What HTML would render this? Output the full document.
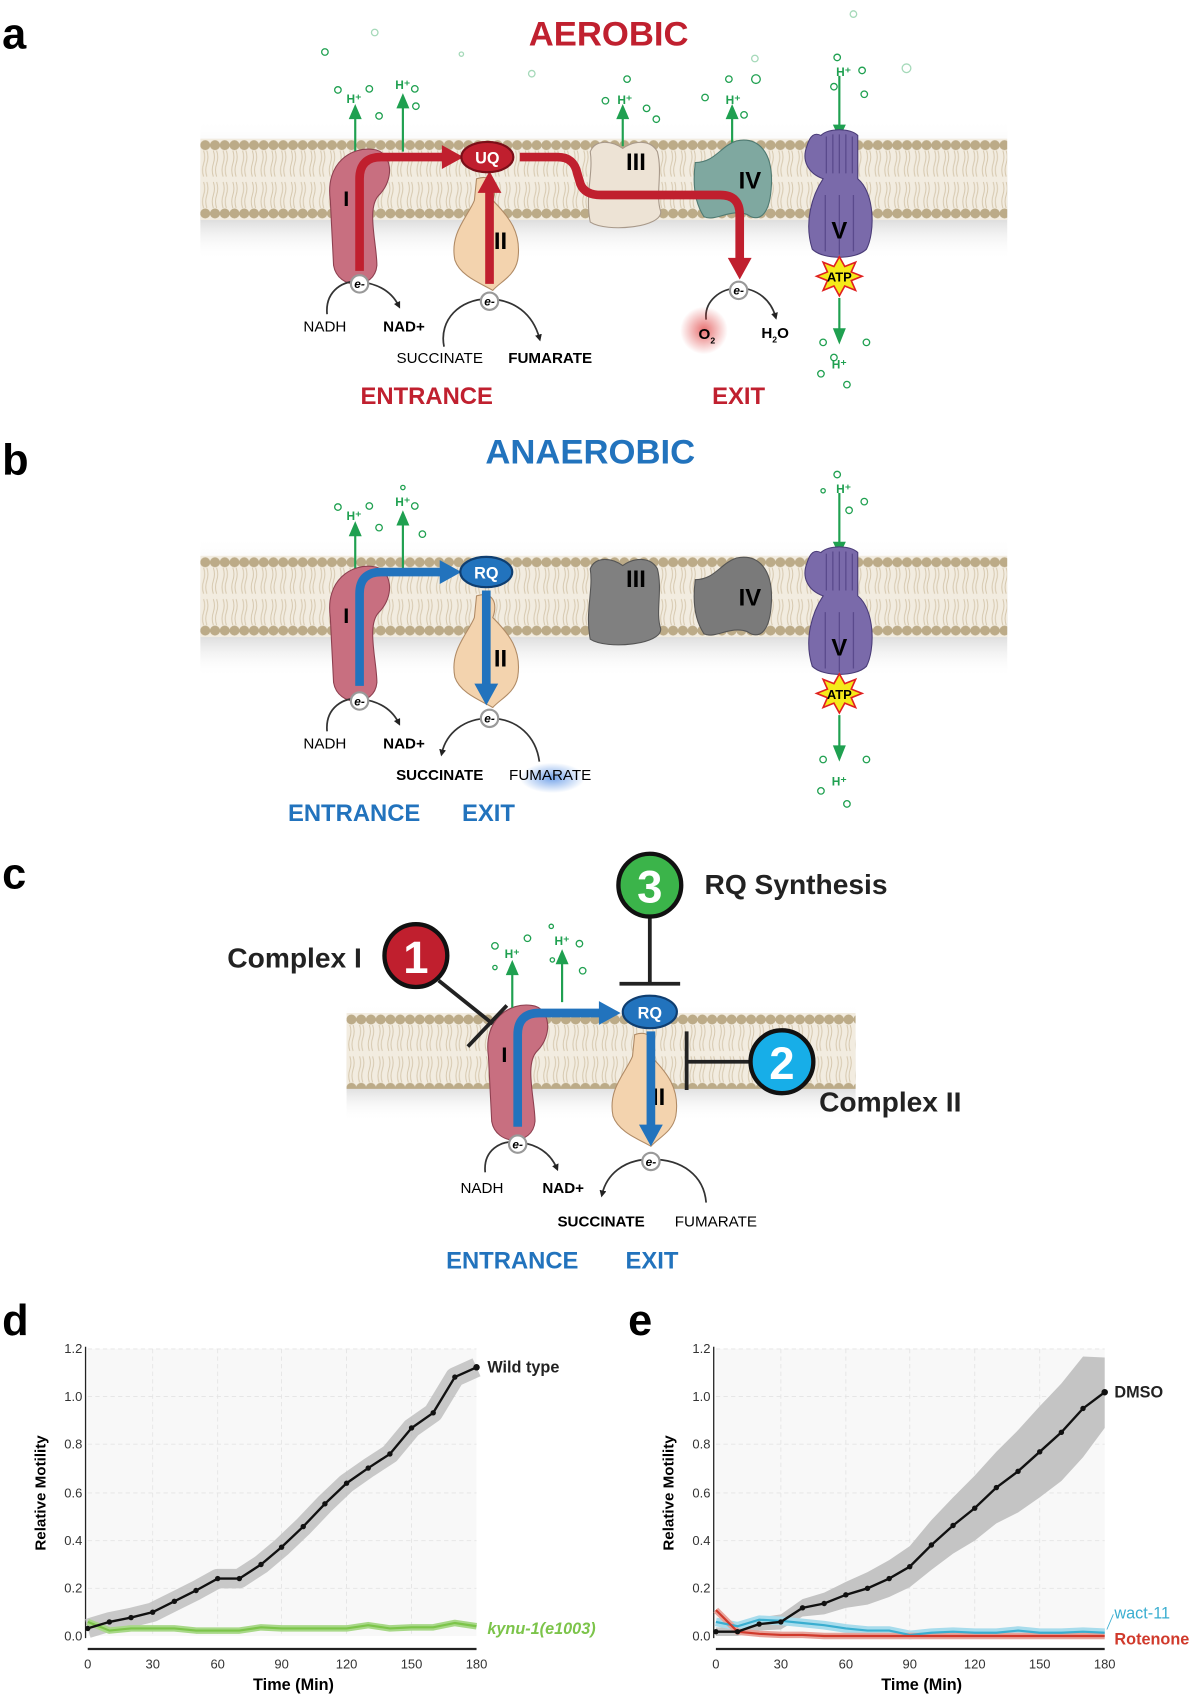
<!DOCTYPE html>
<html><head><meta charset="utf-8"><style>html,body{margin:0;padding:0;background:#fff}svg{display:block}text{font-family:"Liberation Sans",Arial,sans-serif}</style></head>
<body>
<svg width="1200" height="1701" viewBox="0 0 1108 1570" preserveAspectRatio="none" xmlns="http://www.w3.org/2000/svg">
<defs>
<pattern id="lip" x="0" y="0" width="9" height="75" patternUnits="userSpaceOnUse">
<rect width="9" height="75" fill="#f2ece0"/>
<path d="M3,11 q2,6 0,12 q-2,6 0,12 M6,11 q2,6 0,12 q-2,6 0,12 M3,40 q2,6 0,12 q-2,6 0,12 M6,40 q2,6 0,12 q-2,6 0,12" stroke="#d6c8ae" stroke-width="0.9" fill="none"/>
<circle cx="4.5" cy="6" r="4.6" fill="#bcab88"/>
<circle cx="4.5" cy="69" r="4.6" fill="#bcab88"/>
</pattern>
<linearGradient id="shadow" x1="0" y1="0" x2="0" y2="1"><stop offset="0" stop-color="#fff" stop-opacity="0"/><stop offset="0.6" stop-color="#888" stop-opacity="0.55"/><stop offset="1" stop-color="#fff" stop-opacity="0"/></linearGradient>
<marker id="ah" viewBox="0 0 10 10" refX="5" refY="5" markerWidth="4" markerHeight="4" orient="auto"><path d="M0,0 L10,5 L0,10 Z" fill="#222"/></marker>
<radialGradient id="rg"><stop offset="0" stop-color="#d33" stop-opacity="0.7"/><stop offset="1" stop-color="#d33" stop-opacity="0"/></radialGradient>
<radialGradient id="bg"><stop offset="0" stop-color="#3a7de0" stop-opacity="0.7"/><stop offset="1" stop-color="#3a7de0" stop-opacity="0"/></radialGradient>
<g id="c1"><path d="M305,185 C300,150 325,135 345,138 C362,140 365,165 350,180 C338,192 348,225 348,245 C346,268 312,268 308,245 Z" fill="#c86f80" stroke="#8e4050" stroke-width="1"/><text x="317" y="190" font-size="20" font-weight="bold">I</text></g>
<g id="c2"><path d="M440,165 C455,160 460,172 455,185 C470,200 482,215 478,240 C475,255 462,260 455,268 C445,262 425,255 420,240 C415,215 432,200 438,185 Z" fill="#f3d3ae" stroke="#b08b66" stroke-width="1"/><text x="456" y="230" font-size="22" font-weight="bold">II</text></g>
<g id="c3"><path d="M545,140 C550,128 565,130 575,137 C585,130 600,128 607,140 C612,160 605,180 610,195 C612,210 560,215 545,205 C540,180 548,160 545,140 Z" fill="#ede3d5" stroke="#a8998a" stroke-width="1"/><text x="578" y="157" font-size="22" font-weight="bold">III</text></g>
<g id="c4"><path d="M642,150 C660,150 665,135 680,130 C700,126 715,140 712,175 C710,200 700,205 690,198 C675,192 660,205 650,200 C640,185 640,165 642,150 Z" fill="#7fa8a0" stroke="#4f7a72" stroke-width="1"/><text x="682" y="174" font-size="22" font-weight="bold">IV</text></g>
<g id="c5"><path d="M758,125 C765,118 785,118 792,125 L792,165 C808,178 808,215 800,230 C790,240 760,240 750,230 C742,205 750,180 760,165 C746,160 740,148 745,135 C748,125 752,122 758,125 Z" fill="#7a6aaa" stroke="#4a3c78" stroke-width="1"/><path d="M763,126 V160 M769,124 V160 M775,124 V160 M781,124 V160 M787,126 V160 M762,180 V232 M775,180 V235 M788,180 V232" stroke="#5a4a8c" stroke-width="1.2"/><text x="775" y="220" font-size="22" font-weight="bold" text-anchor="middle">V</text></g>
<g id="atp"><polygon points="775,237 780,246 790,242 786,251 796,255 786,259 790,268 780,264 775,273 770,264 760,268 764,259 754,255 764,251 760,242 770,246" fill="#f5ea1a" stroke="#e02020" stroke-width="1.5"/><text x="775" y="260" font-size="12" font-weight="bold" text-anchor="middle">ATP</text></g>
<g id="ecirc"><circle r="8" fill="#fff" stroke="#999" stroke-width="2"/><text y="4" font-size="11" font-weight="bold" font-style="italic" text-anchor="middle">e-</text></g>
</defs>

<!-- Panel a -->
<text x="2" y="45" font-size="40" font-weight="bold">a</text>
<text x="562" y="42" font-size="32" font-weight="bold" fill="#c0202f" text-anchor="middle">AEROBIC</text>
<rect x="185" y="110" width="745" height="130" fill="url(#shadow)"/>
<g transform="translate(185,128)"><rect width="745" height="75" fill="url(#lip)"/></g>
<g fill="none" stroke="#1fa050" stroke-width="1.2">
<circle cx="300" cy="48" r="3"/><circle cx="312" cy="83" r="3"/><circle cx="341" cy="82" r="3"/><circle cx="350" cy="107" r="3"/><circle cx="383" cy="82" r="3"/><circle cx="384" cy="98" r="3"/><circle cx="579" cy="73" r="3"/><circle cx="559" cy="93" r="3"/><circle cx="597" cy="100" r="3"/><circle cx="606" cy="110" r="3"/><circle cx="673" cy="73" r="3"/><circle cx="698" cy="73" r="4"/><circle cx="651" cy="90" r="3"/><circle cx="687" cy="106" r="3"/><circle cx="773" cy="53" r="3"/><circle cx="796" cy="65" r="3"/><circle cx="770" cy="80" r="3"/><circle cx="798" cy="87" r="3"/><circle cx="760" cy="316" r="3"/><circle cx="800" cy="316" r="3"/><circle cx="770" cy="330" r="3"/><circle cx="758" cy="345" r="3"/><circle cx="782" cy="355" r="3"/><circle cx="426" cy="50" r="2" opacity=".4"/><circle cx="346" cy="30" r="3" opacity=".4"/><circle cx="491" cy="68" r="3" opacity=".4"/><circle cx="697" cy="54" r="3" opacity=".4"/><circle cx="788" cy="13" r="3" opacity=".4"/><circle cx="837" cy="63" r="4" opacity=".4"/>
</g>
<g fill="#1fa050" font-size="11" font-weight="bold"><text x="320" y="95">H⁺</text><text x="365" y="82">H⁺</text><text x="570" y="96">H⁺</text><text x="670" y="96">H⁺</text><text x="772" y="70">H⁺</text><text x="768" y="340">H⁺</text></g>
<g stroke="#1fa050" stroke-width="2"><path d="M328,140 V108 M372,140 V98 M575,135 V108 M676,135 V108 M775,70 V118 M775,275 V305"/></g>
<g fill="#1fa050"><path d="M322,110 L328,96 L334,110Z M366,100 L372,86 L378,100Z M569,110 L575,96 L581,110Z M670,110 L676,96 L682,110Z M769,115 L775,128 L781,115Z M769,303 L775,318 L781,303Z"/></g>
<use href="#c1"/><use href="#c2"/><use href="#c3"/><use href="#c4"/><use href="#c5"/><use href="#atp"/>
<g fill="none" stroke="#c01f2e" stroke-width="8"><path d="M332,250 V165 Q332,145 352,145 H410"/><path d="M452,262 V175"/><path d="M480,145 H515 Q530,145 533,160 L536,170 Q540,180 555,180 H665 Q683,180 683,198 V240"/></g>
<g fill="#c01f2e"><path d="M408,134 L428,145 L408,156Z M441,178 L452,158 L463,178Z M672,238 L683,258 L694,238Z"/></g>
<ellipse cx="450" cy="145" rx="24" ry="14" fill="#c01f2e" stroke="#7a0f18" stroke-width="2"/><text x="450" y="151" font-size="15" font-weight="bold" fill="#fff" text-anchor="middle">UQ</text>
<g fill="none" stroke="#333" stroke-width="1.6"><path d="M302,290 C300,268 318,258 332,260 C350,262 362,270 368,282" marker-end="url(#ah)"/><path d="M410,320 C405,295 425,276 450,276 C475,276 492,290 498,312" marker-end="url(#ah)"/><path d="M652,295 C650,278 665,266 682,266 C700,266 712,278 716,292" marker-end="url(#ah)"/></g>
<use href="#ecirc" x="332" y="262"/><use href="#ecirc" x="452" y="278"/><use href="#ecirc" x="682" y="268"/>
<circle cx="650" cy="305" r="22" fill="url(#rg)"/>
<g font-size="14"><text x="300" y="306" text-anchor="middle">NADH</text><text x="373" y="306" text-anchor="middle" font-weight="bold">NAD+</text><text x="406" y="335" text-anchor="middle">SUCCINATE</text><text x="508" y="335" text-anchor="middle" font-weight="bold">FUMARATE</text><text x="645" y="313" font-weight="bold">O<tspan font-size="8" dy="4">2</tspan></text><text x="703" y="312" font-weight="bold">H<tspan font-size="8" dy="4">2</tspan><tspan dy="-4">O</tspan></text></g>
<g font-size="22" font-weight="bold" fill="#c0202f" text-anchor="middle"><text x="394" y="373">ENTRANCE</text><text x="682" y="373">EXIT</text></g>

<!-- Panel b -->
<text x="2" y="438" font-size="40" font-weight="bold">b</text>
<text x="545" y="428" font-size="32" font-weight="bold" fill="#2273bd" text-anchor="middle">ANAEROBIC</text>
<g transform="translate(0,385)">
<rect x="185" y="110" width="745" height="130" fill="url(#shadow)"/>
<g transform="translate(185,128)"><rect width="745" height="75" fill="url(#lip)"/></g>
<g fill="none" stroke="#1fa050" stroke-width="1.2"><circle cx="312" cy="83" r="3"/><circle cx="341" cy="82" r="3"/><circle cx="350" cy="102" r="3"/><circle cx="383" cy="82" r="3"/><circle cx="372" cy="65" r="2"/><circle cx="390" cy="108" r="3"/><circle cx="773" cy="53" r="3"/><circle cx="798" cy="78" r="3"/><circle cx="784" cy="86" r="3"/><circle cx="760" cy="68" r="2"/><circle cx="760" cy="316" r="3"/><circle cx="800" cy="316" r="3"/><circle cx="758" cy="345" r="3"/><circle cx="782" cy="357" r="3"/></g>
<g fill="#1fa050" font-size="11" font-weight="bold"><text x="320" y="95">H⁺</text><text x="365" y="82">H⁺</text><text x="772" y="70">H⁺</text><text x="768" y="340">H⁺</text></g>
<g stroke="#1fa050" stroke-width="2"><path d="M328,140 V108 M372,140 V98 M775,70 V118 M775,275 V305"/></g>
<g fill="#1fa050"><path d="M322,110 L328,96 L334,110Z M366,100 L372,86 L378,100Z M769,115 L775,128 L781,115Z M769,303 L775,318 L781,303Z"/></g>
<use href="#c1"/><use href="#c2"/>
<path d="M545,140 C550,128 565,130 575,137 C585,130 600,128 607,140 C612,160 605,180 610,195 C612,210 560,215 545,205 C540,180 548,160 545,140 Z" fill="#808080" stroke="#555"/><text x="578" y="157" font-size="22" font-weight="bold">III</text><path d="M642,150 C660,150 665,135 680,130 C700,126 715,140 712,175 C710,200 700,205 690,198 C675,192 660,205 650,200 C640,185 640,165 642,150 Z" fill="#7a7a7a" stroke="#555"/><text x="682" y="174" font-size="22" font-weight="bold">IV</text>
<use href="#c5"/><use href="#atp"/>
<g fill="none" stroke="#2273bd" stroke-width="8"><path d="M332,248 V163 Q332,143 352,143 H408"/><path d="M449,160 V248"/></g>
<g fill="#2273bd"><path d="M406,132 L426,143 L406,154Z M438,246 L449,266 L460,246Z"/></g>
<ellipse cx="449" cy="143" rx="24" ry="14" fill="#2273bd" stroke="#0f3e70" stroke-width="2"/><text x="449" y="149" font-size="15" font-weight="bold" fill="#fff" text-anchor="middle">RQ</text>
<g fill="none" stroke="#333" stroke-width="1.6"><path d="M302,290 C300,268 318,258 332,260 C350,262 362,270 368,282" marker-end="url(#ah)"/><path d="M498,318 C495,295 478,278 452,278 C428,278 412,292 408,310" marker-end="url(#ah)"/></g>
<use href="#ecirc" x="332" y="262"/><use href="#ecirc" x="452" y="278"/>
<ellipse cx="510" cy="333" rx="30" ry="14" fill="url(#bg)"/>
<g font-size="14"><text x="300" y="306" text-anchor="middle">NADH</text><text x="373" y="306" text-anchor="middle" font-weight="bold">NAD+</text><text x="406" y="335" text-anchor="middle" font-weight="bold">SUCCINATE</text><text x="508" y="335" text-anchor="middle">FUMARATE</text></g>
<g font-size="22" font-weight="bold" fill="#2273bd" text-anchor="middle"><text x="327" y="373">ENTRANCE</text><text x="451" y="373">EXIT</text></g>
</g>

<!-- Panel c -->
<text x="2" y="820" font-size="40" font-weight="bold">c</text>
<rect x="320" y="925" width="470" height="110" fill="url(#shadow)"/>
<g transform="translate(320,935)"><rect width="470" height="70" fill="url(#lip)"/></g>
<g transform="translate(146,790)">
<use href="#c1"/><use href="#c2"/>
</g>
<g fill="none" stroke="#1fa050" stroke-width="1.2"><circle cx="457" cy="873" r="3"/><circle cx="487" cy="866" r="3"/><circle cx="457" cy="893" r="2"/><circle cx="509" cy="855" r="2"/><circle cx="535" cy="871" r="3"/><circle cx="538" cy="896" r="3"/><circle cx="510" cy="886" r="2"/></g>
<g fill="#1fa050" font-size="11" font-weight="bold"><text x="466" y="884">H⁺</text><text x="512" y="872">H⁺</text></g>
<g stroke="#1fa050" stroke-width="2"><path d="M473,930 V898 M519,925 V888"/></g>
<g fill="#1fa050"><path d="M467,900 L473,886 L479,900Z M513,890 L519,876 L525,890Z"/></g>
<g fill="none" stroke="#2273bd" stroke-width="8"><path d="M478,1040 V955 Q478,935 498,935 H555"/><path d="M601,952 V1040"/></g>
<g fill="#2273bd"><path d="M553,924 L573,935 L553,946Z M590,1038 L601,1058 L612,1038Z"/></g>
<ellipse cx="600" cy="934" rx="25" ry="15" fill="#2273bd" stroke="#0f3e70" stroke-width="2"/><text x="600" y="940" font-size="15" font-weight="bold" fill="#fff" text-anchor="middle">RQ</text>
<g fill="none" stroke="#333" stroke-width="1.6"><path d="M448,1082 C446,1062 462,1052 478,1054 C496,1056 508,1064 514,1078" marker-end="url(#ah)"/><path d="M652,1110 C650,1085 630,1070 601,1070 C575,1070 560,1085 556,1102" marker-end="url(#ah)"/></g>
<use href="#ecirc" x="478" y="1056"/><use href="#ecirc" x="601" y="1072"/>
<g font-size="14"><text x="445" y="1101" text-anchor="middle">NADH</text><text x="520" y="1101" text-anchor="middle" font-weight="bold">NAD+</text><text x="555" y="1132" text-anchor="middle" font-weight="bold">SUCCINATE</text><text x="661" y="1132" text-anchor="middle">FUMARATE</text></g>
<g font-size="22" font-weight="bold" fill="#2273bd" text-anchor="middle"><text x="473" y="1171">ENTRANCE</text><text x="602" y="1171">EXIT</text></g>
<g stroke="#222" stroke-width="3.5" fill="none"><path d="M405,905 L455,945 M432,966 L468,928"/><path d="M600,847 V908 M572,908 H628"/><path d="M692,980 H634 M634,952 V1006"/></g>
<circle cx="384" cy="882" r="29" fill="#c01f2e" stroke="#111" stroke-width="4"/><text x="384" y="898" font-size="42" font-weight="bold" fill="#fff" text-anchor="middle">1</text>
<circle cx="600" cy="817" r="29" fill="#3bb44a" stroke="#111" stroke-width="4"/><text x="600" y="833" font-size="42" font-weight="bold" fill="#fff" text-anchor="middle">3</text>
<circle cx="722" cy="980" r="29" fill="#17aee8" stroke="#111" stroke-width="4"/><text x="722" y="996" font-size="42" font-weight="bold" fill="#fff" text-anchor="middle">2</text>
<g font-size="26" font-weight="bold" fill="#222"><text x="272" y="893" text-anchor="middle">Complex I</text><text x="735" y="825" text-anchor="middle">RQ Synthesis</text><text x="822" y="1026" text-anchor="middle">Complex II</text></g>

<!-- Panel d -->
<text x="2" y="1232" font-size="40" font-weight="bold">d</text>
<rect x="81" y="1245" width="359" height="265" fill="#f8f8f8"/>
<g stroke="#e4e4e4" stroke-dasharray="4,3" stroke-width="0.8"><path d="M81,1245 H440 M81,1289 H440 M81,1333 H440 M81,1378 H440 M81,1422 H440 M81,1466 H440 M141,1245 V1510 M201,1245 V1510 M260,1245 V1510 M320,1245 V1510 M380,1245 V1510"/></g>
<path d="M79,1243 V1512" stroke="#222" stroke-width="1.2"/><path d="M81,1522 H440" stroke="#222" stroke-width="2"/>
<g font-size="12" fill="#333" text-anchor="end"><text x="76" y="1514">0.0</text><text x="76" y="1470">0.2</text><text x="76" y="1426">0.4</text><text x="76" y="1382">0.6</text><text x="76" y="1337">0.8</text><text x="76" y="1293">1.0</text><text x="76" y="1249">1.2</text></g>
<g font-size="12" fill="#333" text-anchor="middle"><text x="81" y="1540">0</text><text x="141" y="1540">30</text><text x="201" y="1540">60</text><text x="260" y="1540">90</text><text x="320" y="1540">120</text><text x="380" y="1540">150</text><text x="440" y="1540">180</text></g>
<text x="271" y="1560" font-size="15" font-weight="bold" text-anchor="middle">Time (Min)</text>
<text transform="translate(42,1378) rotate(-90)" font-size="14" font-weight="bold" text-anchor="middle">Relative Motility</text>
<polyline points="81,1503 101,1497 121,1493 141,1488 161,1478 181,1468 201,1457 221,1457 241,1444 260,1428 280,1409 300,1388 320,1369 340,1355 360,1342 380,1318 400,1304 420,1271 440,1262" fill="none" stroke="#bbb" stroke-width="18" stroke-linejoin="round" opacity="0.8"/>
<polyline points="81,1497 101,1505 121,1503 141,1503 161,1503 181,1505 201,1505 221,1505 241,1502 260,1503 280,1503 300,1503 320,1503 340,1500 360,1503 380,1502 400,1502 420,1498 440,1501" fill="none" stroke="#a8d888" stroke-width="6" stroke-linejoin="round"/>
<polyline points="81,1497 101,1505 121,1503 141,1503 161,1503 181,1505 201,1505 221,1505 241,1502 260,1503 280,1503 300,1503 320,1503 340,1500 360,1503 380,1502 400,1502 420,1498 440,1501" fill="none" stroke="#7cc44a" stroke-width="2"/>
<polyline points="81,1503 101,1497 121,1493 141,1488 161,1478 181,1468 201,1457 221,1457 241,1444 260,1428 280,1409 300,1388 320,1369 340,1355 360,1342 380,1318 400,1304 420,1271 440,1262" fill="none" stroke="#111" stroke-width="2.2"/>
<g fill="#111"><circle cx="81" cy="1503" r="2.5"/><circle cx="101" cy="1497" r="2.5"/><circle cx="121" cy="1493" r="2.5"/><circle cx="141" cy="1488" r="2.5"/><circle cx="161" cy="1478" r="2.5"/><circle cx="181" cy="1468" r="2.5"/><circle cx="201" cy="1457" r="2.5"/><circle cx="221" cy="1457" r="2.5"/><circle cx="241" cy="1444" r="2.5"/><circle cx="260" cy="1428" r="2.5"/><circle cx="280" cy="1409" r="2.5"/><circle cx="300" cy="1388" r="2.5"/><circle cx="320" cy="1369" r="2.5"/><circle cx="340" cy="1355" r="2.5"/><circle cx="360" cy="1342" r="2.5"/><circle cx="380" cy="1318" r="2.5"/><circle cx="400" cy="1304" r="2.5"/><circle cx="420" cy="1271" r="2.5"/><circle cx="440" cy="1262" r="3"/></g>
<text x="450" y="1267" font-size="15" font-weight="bold" fill="#222">Wild type</text>
<text x="450" y="1508" font-size="15" font-weight="bold" font-style="italic" fill="#7cc44a">kynu-1(e1003)</text>

<!-- Panel e -->
<text x="580" y="1232" font-size="40" font-weight="bold">e</text>
<rect x="661" y="1245" width="359" height="265" fill="#f8f8f8"/>
<g stroke="#e4e4e4" stroke-dasharray="4,3" stroke-width="0.8"><path d="M661,1245 H1020 M661,1289 H1020 M661,1333 H1020 M661,1378 H1020 M661,1422 H1020 M661,1466 H1020 M721,1245 V1510 M781,1245 V1510 M840,1245 V1510 M900,1245 V1510 M960,1245 V1510"/></g>
<path d="M659,1243 V1512" stroke="#222" stroke-width="1.2"/><path d="M661,1522 H1020" stroke="#222" stroke-width="2"/>
<g font-size="12" fill="#333" text-anchor="end"><text x="656" y="1514">0.0</text><text x="656" y="1470">0.2</text><text x="656" y="1426">0.4</text><text x="656" y="1382">0.6</text><text x="656" y="1337">0.8</text><text x="656" y="1293">1.0</text><text x="656" y="1249">1.2</text></g>
<g font-size="12" fill="#333" text-anchor="middle"><text x="661" y="1540">0</text><text x="721" y="1540">30</text><text x="781" y="1540">60</text><text x="840" y="1540">90</text><text x="900" y="1540">120</text><text x="960" y="1540">150</text><text x="1020" y="1540">180</text></g>
<text x="851" y="1560" font-size="15" font-weight="bold" text-anchor="middle">Time (Min)</text>
<text transform="translate(622,1378) rotate(-90)" font-size="14" font-weight="bold" text-anchor="middle">Relative Motility</text>
<polygon points="661,1502 681,1502 701,1493 721,1490 741,1476 761,1470 781,1460 801,1451 821,1440 840,1427 860,1403 880,1382 900,1362 920,1340 940,1320 960,1298 980,1277 1000,1252 1020,1253 1020,1318 1000,1345 980,1367 960,1382 940,1396 920,1406 900,1422 880,1434 860,1449 840,1465 821,1474 801,1481 781,1484 761,1490 741,1492 721,1504 701,1505 681,1510 661,1510" fill="#c4c4c4"/>
<polyline points="661,1497 681,1501 701,1495 721,1496 741,1498 761,1500 781,1503 801,1505 821,1505 840,1509 860,1507 880,1506 900,1507 920,1507 940,1505 960,1507 980,1507 1000,1506 1020,1507" fill="none" stroke="#a8dcec" stroke-width="8" stroke-linejoin="round"/>
<polyline points="661,1486 681,1506 701,1508 721,1509 741,1509 761,1510 781,1510 801,1510 821,1510 840,1510 860,1510 880,1510 900,1510 920,1510 940,1510 960,1510 980,1510 1000,1510 1020,1510" fill="none" stroke="#e8a39b" stroke-width="6" stroke-linejoin="round"/>
<polyline points="661,1497 681,1501 701,1495 721,1496 741,1498 761,1500 781,1503 801,1505 821,1505 840,1509 860,1507 880,1506 900,1507 920,1507 940,1505 960,1507 980,1507 1000,1506 1020,1507" fill="none" stroke="#3aaed0" stroke-width="2"/>
<polyline points="661,1486 681,1506 701,1508 721,1509 741,1509 761,1510 781,1510 801,1510 821,1510 840,1510 860,1510 880,1510 900,1510 920,1510 940,1510 960,1510 980,1510 1000,1510 1020,1510" fill="none" stroke="#d0392b" stroke-width="2"/>
<polyline points="661,1506 681,1506 701,1499 721,1497 741,1484 761,1480 781,1472 801,1466 821,1457 840,1446 860,1426 880,1408 900,1392 920,1373 940,1358 960,1340 980,1322 1000,1300 1020,1285" fill="none" stroke="#111" stroke-width="2.2"/>
<g fill="#111"><circle cx="661" cy="1506" r="2.5"/><circle cx="681" cy="1506" r="2.5"/><circle cx="701" cy="1499" r="2.5"/><circle cx="721" cy="1497" r="2.5"/><circle cx="741" cy="1484" r="2.5"/><circle cx="761" cy="1480" r="2.5"/><circle cx="781" cy="1472" r="2.5"/><circle cx="801" cy="1466" r="2.5"/><circle cx="821" cy="1457" r="2.5"/><circle cx="840" cy="1446" r="2.5"/><circle cx="860" cy="1426" r="2.5"/><circle cx="880" cy="1408" r="2.5"/><circle cx="900" cy="1392" r="2.5"/><circle cx="920" cy="1373" r="2.5"/><circle cx="940" cy="1358" r="2.5"/><circle cx="960" cy="1340" r="2.5"/><circle cx="980" cy="1322" r="2.5"/><circle cx="1000" cy="1300" r="2.5"/><circle cx="1020" cy="1285" r="3"/></g>
<text x="1029" y="1290" font-size="15" font-weight="bold" fill="#222">DMSO</text>
<path d="M1022,1504 L1028,1490" stroke="#3aaed0" stroke-width="0.8"/>
<text x="1029" y="1494" font-size="15" fill="#3aaed0">wact-11</text>
<text x="1029" y="1518" font-size="15" font-weight="bold" fill="#d0392b">Rotenone</text>
</svg>
</body></html>
